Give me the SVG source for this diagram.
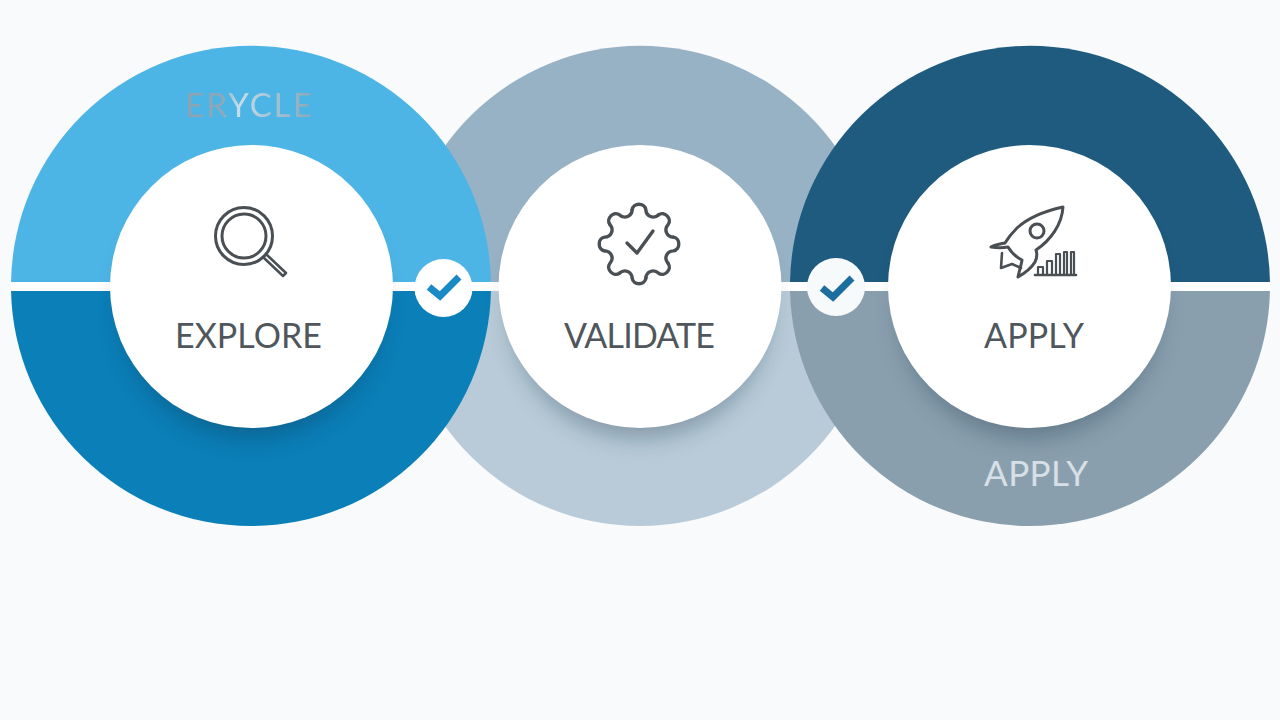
<svg xmlns="http://www.w3.org/2000/svg" width="1280" height="720" viewBox="0 0 1280 720">
<defs>
<filter id="sh" x="-30%" y="-30%" width="160%" height="170%"><feGaussianBlur stdDeviation="13"/></filter>
<filter id="sb"><feGaussianBlur stdDeviation="0.7"/></filter>
<linearGradient id="fade" gradientUnits="userSpaceOnUse" x1="185" y1="0" x2="312" y2="0">
<stop offset="0" stop-color="#8aa3b3"/><stop offset="0.3" stop-color="#8fa8b8"/><stop offset="0.42" stop-color="#c8dde8"/><stop offset="0.66" stop-color="#a9c6d6"/><stop offset="1" stop-color="#8ba8ba"/>
</linearGradient>
<path id="sector" d="M-6.830 -34.330C-5.850 -41.590 5.850 -41.590 6.830 -34.330C7.140 -27.590 14.460 -24.560 19.440 -29.100"/>
</defs>
<style>
.lbl{font-family:"Lato","Liberation Sans",sans-serif;font-size:34px;fill:#4f565c;text-anchor:middle}
.inner{fill:#fff}
.shadow{fill:#0c2c40;opacity:.36;filter:url(#sh)}
.ic{fill:none;stroke:#4a4f54;stroke-linecap:round;stroke-linejoin:round}
.chk{fill:none;stroke-width:7;stroke-linejoin:miter}
</style>
<rect width="1280" height="720" fill="#f8fafb"/>
<g id="node-validate">
<path d="M400.030 282A240 240 0 0 1 879.970 282Z" fill="#98b2c5"/>
<path d="M400.050 291A240 240 0 0 0 879.950 291Z" fill="#b9cbd8"/>
</g>
<g id="node-explore">
<path d="M11.030 282A240 240 0 0 1 490.970 282Z" fill="#4db5e5"/>
<path d="M11.050 291A240 240 0 0 0 490.950 291Z" fill="#0b7fb8"/>
</g>
<g id="node-apply">
<path d="M790.030 282A240 240 0 0 1 1269.970 282Z" fill="#1f5b7f"/>
<path d="M790.050 291A240 240 0 0 0 1269.950 291Z" fill="#8a9fae"/>
</g>
<g id="connectors">
<rect x="11" y="282" width="1259" height="9" fill="#fff"/>
</g>
<g id="explore-inner">
<circle class="shadow" cx="251.500" cy="308" r="128"/>
<circle class="inner" cx="251.500" cy="286.500" r="141.500"/>
<g class="ic">
<circle cx="244" cy="236" r="28.500" stroke-width="3"/>
<circle cx="244" cy="236" r="22" stroke-width="3"/>
<path d="M264 258L283 276L286 273L267 255" stroke-width="2.500"/>
</g>
<text class="lbl" x="248.500" y="347.500" textLength="147" lengthAdjust="spacing">EXPLORE</text>
</g>
<g id="validate-inner">
<circle class="shadow" cx="640" cy="308" r="128"/>
<circle class="inner" cx="640" cy="286.500" r="141.500"/>
<g class="ic" stroke-width="3.400">
<use href="#sector" transform="translate(639 244)"/>
<use href="#sector" transform="translate(639 244) rotate(45)"/>
<use href="#sector" transform="translate(639 244) rotate(90)"/>
<use href="#sector" transform="translate(639 244) rotate(135)"/>
<use href="#sector" transform="translate(639 244) rotate(180)"/>
<use href="#sector" transform="translate(639 244) rotate(225)"/>
<use href="#sector" transform="translate(639 244) rotate(270)"/>
<use href="#sector" transform="translate(639 244) rotate(315)"/>
</g>
<path class="ic" stroke-width="3.400" d="M627 243L637 253L653 231"/>
<text class="lbl" x="639.500" y="347.500" textLength="151" lengthAdjust="spacing">VALIDATE</text>
</g>
<g id="apply-inner">
<circle class="shadow" cx="1029.500" cy="308" r="128"/>
<circle class="inner" cx="1029.500" cy="286.500" r="141.500"/>
<g class="ic" stroke-width="3">
<path d="M1063 207C1045 211 1029 217 1017 228C1012 233 1008 238 1005 243C1000 244 994 245 991 247C997 248 1003 248 1008 247C1011 252 1016 257 1022 260C1021 266 1019 272 1018 277C1025 273 1032 267 1035 262C1037 258 1037 253 1036 250C1051 240 1062 224 1063 207Z"/>
<circle cx="1037" cy="231" r="7"/>
<path d="M1002 253L1001 268L1012 264L1021 268" stroke-width="2.600"/>
<path d="M1035 275L1076 275" stroke-width="2.600"/>
<path d="M1038 275L1038 267L1043 267L1043 275M1047 275L1047 261L1052 261L1052 275M1056 275L1056 254L1060 254L1060 275M1064 275L1064 252L1067 252L1067 275M1071 275L1071 252L1074 252L1074 275" stroke-width="2.200"/>
</g>
<text class="lbl" x="1034" y="347.500" textLength="100" lengthAdjust="spacing">APPLY</text>
</g>
<g id="check-1">
<circle cx="443.500" cy="288" r="29" fill="#fff"/>
<path class="chk" stroke="#1a8ac6" d="M429 287L440 296L459 277"/>
</g>
<g id="check-2">
<circle cx="836" cy="287" r="29" fill="#f7fafb"/>
<path class="chk" stroke="#1c6e9f" d="M822 288L833 297L852 278"/>
</g>
<text x="248.500" y="117" font-family="Lato,'Liberation Sans',sans-serif" font-size="33" fill="url(#fade)" text-anchor="middle" textLength="127" lengthAdjust="spacing" filter="url(#sb)">ERYCLE</text>
<text x="1036" y="486" font-family="Lato,'Liberation Sans',sans-serif" font-size="35" fill="#d7e0e6" text-anchor="middle" textLength="104" lengthAdjust="spacing">APPLY</text>
</svg>
